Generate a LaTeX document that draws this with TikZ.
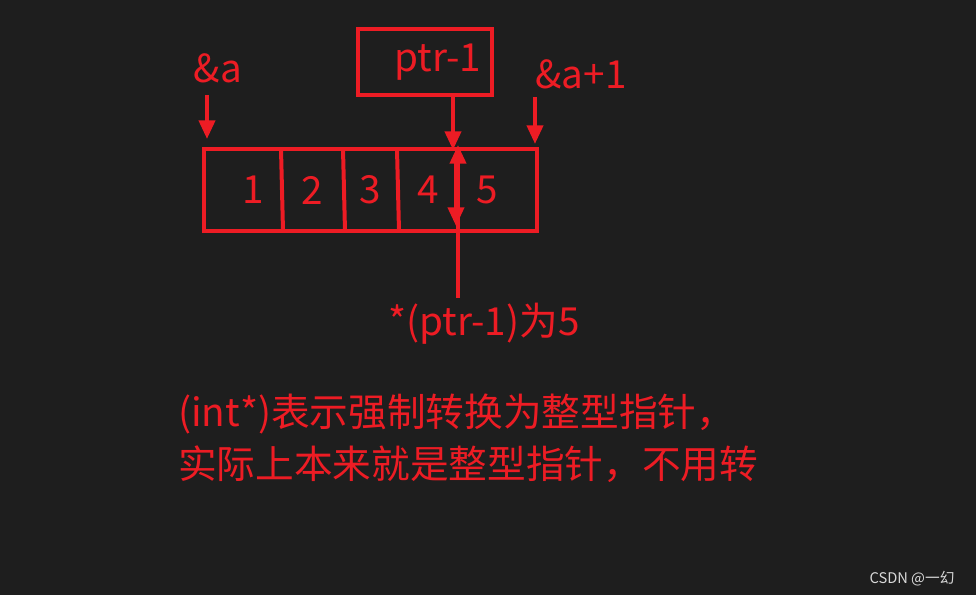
\documentclass[tikz,border=0pt]{standalone}
\usepackage{fontspec}
\setmainfont{Liberation Sans}
\newfontfamily\cjk{Noto Sans CJK SC}
\usetikzlibrary{arrows.meta}
\definecolor{bg}{RGB}{30,30,30}
\definecolor{rd}{RGB}{237,28,36}
\begin{document}
\begin{tikzpicture}[x=0.75pt,y=-0.75pt,
  ln/.style={draw=rd,line width=3pt},
  ar/.style={rd,line width=3pt,-{Triangle[length=14pt,width=12pt]}},
  tx/.style={text=rd,font=\fontsize{29}{34}\selectfont\cjk,inner sep=0pt}]
\fill[bg] (0,0) rectangle (976,595);
\useasboundingbox (0,0) rectangle (976,595);
\draw[ln] (204,149) rectangle (537,231);
\draw[ln] (281,149) -- (283,231);
\draw[ln] (343,149) -- (345,231);
\draw[ln] (397,149) -- (399,231);
\node[tx] (n1) at (253,190) {1};
\node[tx] (n2) at (312,190) {2};
\node[tx] (n3) at (370,190) {3};
\node[tx] (n4) at (428,190) {4};
\node[tx] (n5) at (487,190) {5};
\node[ln,minimum width=101pt,minimum height=49pt,tx,draw=rd] (p) at (425,62) {};
\node[tx] (pt) at (438,62) {ptr-1};
\node[tx] (a) at (218,68) {\&a};
\node[tx] (a1) at (581,74) {\&a+1};
\coordinate (a0) at (207,95); \coordinate (ae) at (207,139);
\draw[ar] (a0) -- (ae);
\coordinate (b0) at (535,97); \coordinate (be) at (535,144);
\draw[ar] (b0) -- (be);
\coordinate (c0) at (453,95); \coordinate (ce) at (453,150);
\draw[ar] (c0) -- (ce);
\coordinate (d0) at (458,298); \coordinate (de) at (458,145);
\draw[ar] (d0) -- (de);
\coordinate (e0) at (456,160); \coordinate (ee) at (456,226);
\draw[ar] (e0) -- (ee);
\node[tx] (s) at (484,324) {*(ptr-1)为5};
\node[tx,anchor=west] (l1) at (178,414) {(int*)表示强制转换为整型指针，};
\node[tx,anchor=west] (l2) at (178,464) {实际上本来就是整型指针，不用转};
\node[text=white!85!black,font=\fontsize{11}{13}\selectfont\cjk,inner sep=0pt] (w) at (912,579) {CSDN @一幻};
\end{tikzpicture}
\end{document}
